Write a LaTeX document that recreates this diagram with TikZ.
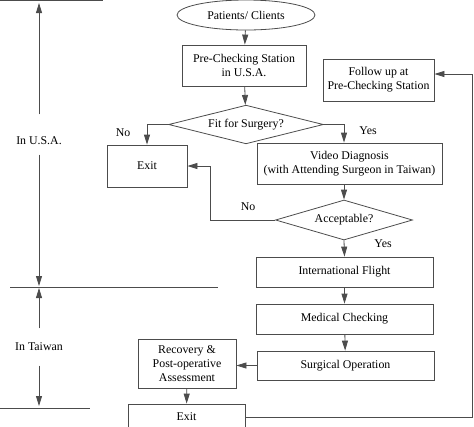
\documentclass[tikz,border=0pt]{standalone}
\usepackage{fontspec}
\setmainfont{Liberation Serif}
\usetikzlibrary{arrows.meta,shapes.geometric}

\begin{document}
\begin{tikzpicture}[x=0.75pt,y=-0.75pt,font=\fontsize{8.9}{10.5}\selectfont]
  \tikzstyle{box}=[draw=black!70,line width=0.6pt,align=center,inner sep=1pt]
  \tikzstyle{ask}=[box,diamond,aspect=4,inner sep=0pt]
  \tikzstyle{arr}=[draw=black!70,line width=0.6pt,-{Triangle[length=7.5pt,width=4.5pt]}]
  \tikzstyle{rule}=[draw=black!70,line width=0.6pt]
  \useasboundingbox (0,0) rectangle (474,426);
  % main flow
  \node[box,ellipse,minimum width=103.5pt,minimum height=22.5pt] (patients) at (246,15) {Patients/ Clients};
  \node[box,minimum width=93pt,minimum height=30.75pt] (precheck) at (244,65.5) {Pre-Checking Station\\in U.S.A.};
  \node[ask,minimum width=116pt,minimum height=29pt] (fit) at (246,124.5) {Fit for Surgery?};
  \node[box,minimum width=60pt,minimum height=31.5pt] (exitusa) at (147,166) {Exit};
  \node[box,minimum width=138.75pt,minimum height=30.75pt] (video) at (349.5,163.5) {Video Diagnosis\\(with Attending Surgeon in Taiwan)};
  \node[box,minimum width=83.25pt,minimum height=31.5pt] (followup) at (378.5,80) {Follow up at\\Pre-Checking Station};
  \node[ask,minimum width=102.75pt,minimum height=30pt] (accept) at (344,220) {Acceptable?};
  \node[box,minimum width=132.75pt,minimum height=22.5pt] (flight) at (344.5,272) {International Flight};
  \node[box,minimum width=132.75pt,minimum height=22.5pt] (medical) at (344.5,319) {Medical Checking};
  \node[box,minimum width=132.75pt,minimum height=21.75pt] (surgery) at (345.5,365.5) {Surgical Operation};
  \node[box,minimum width=73.5pt,minimum height=36.75pt] (recovery) at (187,363.5) {Recovery \&\\Post-operative\\Assessment};
  \node[box,minimum width=87.75pt,minimum height=19.5pt] (exittw) at (186.5,417) {Exit};
  \coordinate (back) at (472.5,74);
  % labels
  \node (no1) at (123,133) {No};
  \node (yes1) at (368,131) {Yes};
  \node (no2) at (248,207) {No};
  \node (yes2) at (383,244) {Yes};
  \node (usa) at (39,141) {In U.S.A.};
  \node (taiwan) at (39,347) {In Taiwan};
  % connectors
  \draw[arr] (patients) -- (precheck);
  \draw[arr] (precheck) -- (fit);
  \draw[arr] (fit.west) -| (exitusa.north);
  \draw[arr] (fit.east) -| (accept.north |- video.north);
  \draw[arr] (accept.north |- video.south) -- (accept.north);
  \draw[arr] (accept.west) -- ++(-65,0) |- (exitusa.east);
  \draw[arr] (accept.south) -- (flight.north);
  \draw[arr] (flight) -- (medical);
  \draw[arr] (medical) -- (surgery);
  \draw[arr] (surgery.west) -- (surgery.west -| recovery.east);
  \draw[arr] (recovery) -- (exittw);
  \draw[arr] (exittw.east) -| (back) -- (back -| followup.east);
  % side scale
  \draw[arr] (usa.north) ++(0,-18) -- (39,3);
  \draw[arr] (usa.south) ++(0,5) -- (39,286);
  \draw[arr] (taiwan.north) ++(0,-10) -- (39,288);
  \draw[arr] (taiwan.south) ++(0,10) -- (39,406);
  \draw[rule] (0,0.5) -- (103,0.5);
  \draw[rule] (10,287) -- (218,287);
  \draw[rule] (0,408) -- (90,408);
\end{tikzpicture}
\end{document}
